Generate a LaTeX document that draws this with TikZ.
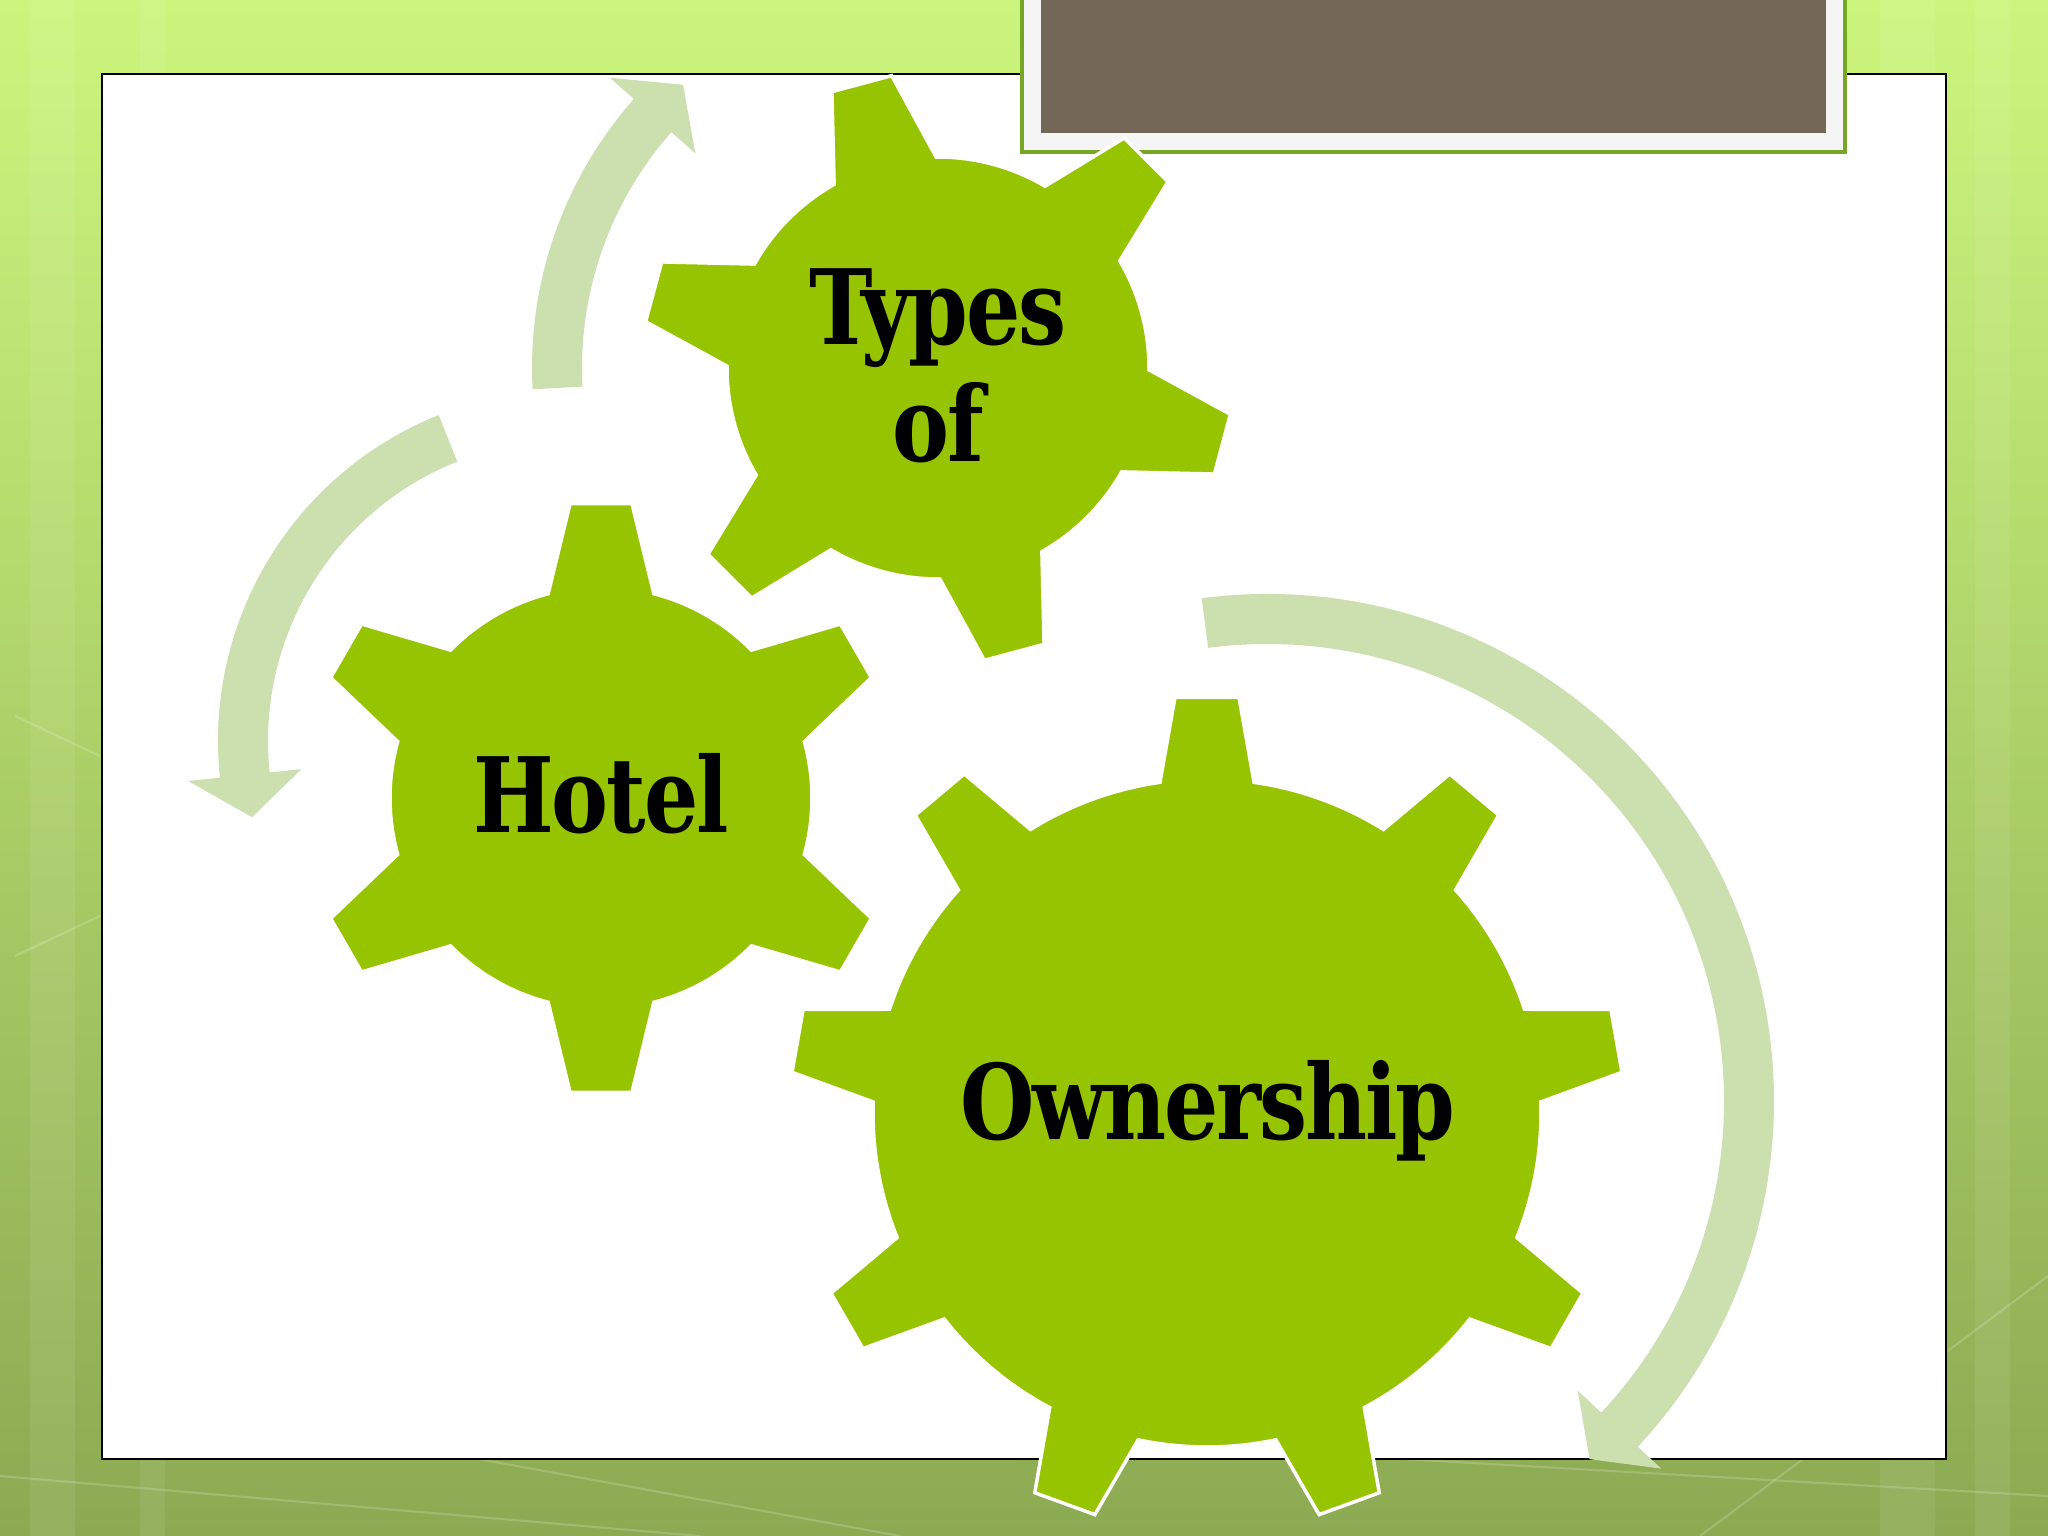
\documentclass[tikz,border=0pt]{standalone}
\usepackage{fontspec}
\newfontfamily\gearfont{DejaVu Serif}[FakeStretch=0.82, LetterSpace=-2]
\definecolor{geargreen}{RGB}{150,196,0}
\definecolor{arrowgreen}{RGB}{203,223,175}
\definecolor{titlegray}{RGB}{115,104,88}
\definecolor{framegreen}{RGB}{118,166,36}
\definecolor{bgtop}{RGB}{204,245,125}
\definecolor{bgmid}{RGB}{172,212,92}
\definecolor{bgbottom}{RGB}{140,170,82}

\tikzset{
  gear/.style={fill=geargreen, draw=white, line width=1pt, line join=miter},
  ring/.style={fill=arrowgreen},
  gearlabel/.style={font=\gearfont\bfseries\fontsize{29.6}{33.4}\selectfont,
    align=center, inner sep=0pt, text=black},
  streak/.style={white, opacity=0.18, line width=0.6pt}
}

\begin{document}
\begin{tikzpicture}[x=0.01cm, y=0.01cm]
  \useasboundingbox (0,0) rectangle (2048,1536);

  % slide background
  \shade[top color=bgtop, middle color=bgmid, bottom color=bgbottom] (0,0) rectangle (2048,1536);
  \foreach \x/\w in {30/45, 140/25, 1880/55, 1975/35}
    \fill[white, opacity=0.08] (\x,0) rectangle ++(\w,1536);
  \draw[streak] (0,60) -- (700,0);
  \draw[streak] (380,95) -- (900,0);
  \draw[streak] (1350,80) -- (2048,40);
  \draw[streak] (1700,0) -- (2048,260);
  \draw[streak] (15,580) -- (100,620);
  \draw[streak] (15,820) -- (100,780);

  % white panel
  \draw[fill=white, line width=0.6pt] (102,77) rectangle (1946,1462);

  % title box
  \filldraw[fill=black!4, draw=framegreen, line width=1.2pt] (1022,1384) rectangle (1845,1545);
  \fill[titlegray] (1041,1403) rectangle (1826,1536);

  % circular arrows
  \begin{scope}[shift={(938,1168)}]
    \fill[ring] (183:406) arc[start angle=183, end angle=138.5, radius=406]
      -- (138.5:438) -- (132:381) -- (138.5:324) -- (138.5:356)
      arc[start angle=138.5, end angle=183, radius=356] -- cycle;
  \end{scope}
  \begin{scope}[shift={(569,795)}]
    \fill[ring] (111.8:351) arc[start angle=111.8, end angle=186, radius=351]
      -- (186:383) -- (193.5:326) -- (186:269) -- (186:301)
      arc[start angle=186, end angle=111.8, radius=301] -- cycle;
  \end{scope}
  \begin{scope}[shift={(1267,435)}]
    \fill[ring] (97.4:507) arc[start angle=97.4, end angle=-43, radius=507]
      -- (-43:539) -- (-48:482) -- (-43:425) -- (-43:457)
      arc[start angle=-43, end angle=97.4, radius=457] -- cycle;
  \end{scope}

  % gears
  \begin{scope}[shift={(938,1168)}]
    \filldraw[gear] (90.5:211) \foreach \a in {105,165,...,405} {
      -- ({\a-6}:296) -- ({\a+6}:296) -- ({\a+14.5}:211)
      arc[start angle=\a+14.5, end angle=\a+45.5, radius=211]} -- cycle;
  \end{scope}
  \begin{scope}[shift={(601,738)}]
    \filldraw[gear] (75.5:211) \foreach \a in {90,150,...,390} {
      -- ({\a-6}:296) -- ({\a+6}:296) -- ({\a+14.5}:211)
      arc[start angle=\a+14.5, end angle=\a+45.5, radius=211]} -- cycle;
  \end{scope}
  \begin{scope}[shift={(1207,423)}]
    \filldraw[gear] (81.9:334) \foreach \a in {90,130,...,410} {
      -- ({\a-4.4}:417) -- ({\a+4.4}:417) -- ({\a+8.1}:334)
      arc[start angle=\a+8.1, end angle=\a+31.9, radius=334]} -- cycle;
  \end{scope}

  % labels
  \node[gearlabel] (types) at (938,1170) {Types\\of};
  \node[gearlabel, anchor=base] (hotel) at (601,703) {Hotel};
  \node[gearlabel, anchor=base] (ownership) at (1208,396) {Ownership};
\end{tikzpicture}
\end{document}
